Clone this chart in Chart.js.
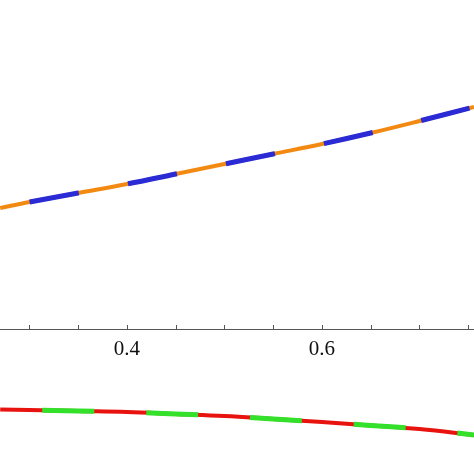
<!DOCTYPE html>
<html><head><script src="https://cdn.jsdelivr.net/npm/chart.js@4"></script>
<style>html,body{margin:0;padding:0;background:#fff}#c{display:block}</style></head>
<body><canvas id="c" width="474" height="474"></canvas>
<script>
const xs = [0.27, 0.30, 0.35, 0.40, 0.45, 0.50, 0.55, 0.60, 0.65, 0.70, 0.756];
const upper = [266, 272, 281, 290, 300, 310, 320, 330, 341, 353, 367];
const lower = [64.5, 64, 63, 62, 60, 58, 55, 52, 48.5, 45, 39];
const tickLabels = {"0.4": "0.4", "0.6": "0.6"};
const pts = a => xs.map((x, i) => ({x, y: a[i]}));
const tickPlugin = {id: 'ticks', afterDraw(c) {
  const s = c.scales.x, yp = c.scales.y.getPixelForValue(144), ctx = c.ctx;
  ctx.save(); ctx.strokeStyle = '#555'; ctx.lineWidth = 1;
  for (let v = 0.3; v < 0.76; v += 0.05) {
    const px = Math.round(s.getPixelForValue(v)) + 0.5;
    ctx.beginPath(); ctx.moveTo(px, yp); ctx.lineTo(px, yp - 5); ctx.stroke();
  }
  ctx.restore();
}};
new Chart(document.getElementById('c'), {
  type: 'scatter',
  data: {datasets: [
    {data: pts(upper), showLine: true, borderColor: '#2b2bd6', borderWidth: 5, borderDash: [50, 50], borderDashOffset: 70, pointRadius: 0, tension: 0.4, order: 0},
    {data: pts(upper), showLine: true, borderColor: '#f28a12', borderWidth: 4, pointRadius: 0, tension: 0.4, order: 1},
    {data: pts(lower), showLine: true, borderColor: '#33e02a', borderWidth: 5, borderDash: [52, 52], borderDashOffset: 62, pointRadius: 0, tension: 0.4, order: 0},
    {data: pts(lower), showLine: true, borderColor: '#e8120f', borderWidth: 4, pointRadius: 0, tension: 0.4, order: 1}
  ]},
  options: {
    animation: false, responsive: false, maintainAspectRatio: false,
    layout: {padding: 0},
    plugins: {legend: {display: false}, tooltip: {enabled: false}},
    scales: {
      x: {type: 'linear', min: 0.2698, max: 0.756, position: {y: 144},
        afterBuildTicks: s => { s.ticks = [0.4, 0.6].map(v => ({value: v})); },
        grid: {display: false, drawTicks: false},
        border: {display: true, color: '#555', width: 1},
        ticks: {padding: 7, color: '#111', font: {family: 'Liberation Serif', size: 21}, callback: v => tickLabels[String(v)] || ''}},
      y: {display: false, min: 0, max: 474}
    }
  },
  plugins: [tickPlugin]
});
</script></body></html>
